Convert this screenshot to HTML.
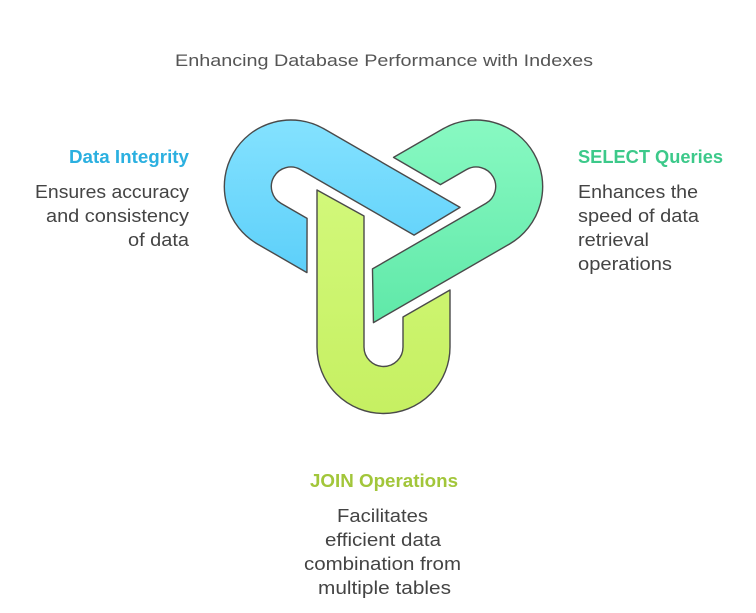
<!DOCTYPE html>
<html><head><style>
html,body{margin:0;padding:0;background:#fff;}
svg{display:block;}
text{font-family:"Liberation Sans",sans-serif;}
</style></head><body>
<svg width="756" height="613" viewBox="0 0 756 613" xmlns="http://www.w3.org/2000/svg">
<defs>
<linearGradient id="gy" x1="0" y1="0" x2="0" y2="1"><stop offset="0" stop-color="#d2f87a"/><stop offset="1" stop-color="#c6f062"/></linearGradient>
<linearGradient id="gb" gradientUnits="userSpaceOnUse" x1="0" y1="120" x2="0" y2="275" gradientTransform="rotate(-120 383.5 240)"><stop offset="0" stop-color="#84e2ff"/><stop offset="1" stop-color="#5ccff9"/></linearGradient>
<linearGradient id="gg" gradientUnits="userSpaceOnUse" x1="0" y1="120" x2="0" y2="325" gradientTransform="rotate(-240 383.5 240)"><stop offset="0" stop-color="#88f9c2"/><stop offset="1" stop-color="#5fe8a8"/></linearGradient>
</defs>
<g stroke="#4a4a4a" stroke-width="1.4" stroke-linejoin="round">
<path d="M317,190 L364,216 L364,347 A19.5,19.5 0 0 0 403,347 L403,317 L450,290 L450,347 A66.5,66.5 0 0 1 317,347 Z" fill="url(#gy)"/>
<path transform="rotate(120 383.5 240)" d="M317,190 L364,216 L364,347 A19.5,19.5 0 0 0 403,347 L403,317 L450,290 L450,347 A66.5,66.5 0 0 1 317,347 Z" fill="url(#gb)"/>
<path transform="rotate(240 383.5 240)" d="M317,190 L364,216 L364,347 A19.5,19.5 0 0 0 403,347 L403,317 L450,290 L450,347 A66.5,66.5 0 0 1 317,347 Z" fill="url(#gg)"/>
</g>
<text x="175" y="66" font-size="17" fill="#555" textLength="418" lengthAdjust="spacingAndGlyphs">Enhancing Database Performance with Indexes</text>
<g font-size="18" fill="#444" lengthAdjust="spacingAndGlyphs">
<text x="69" y="163" fill="#2bb0e0" font-weight="bold" textLength="120" lengthAdjust="spacingAndGlyphs">Data Integrity</text>
<text x="35" y="198" textLength="154" lengthAdjust="spacingAndGlyphs">Ensures accuracy</text>
<text x="46" y="222" textLength="143" lengthAdjust="spacingAndGlyphs">and consistency</text>
<text x="128" y="246" textLength="61" lengthAdjust="spacingAndGlyphs">of data</text>
<text x="578" y="163" fill="#3cc98a" font-weight="bold" textLength="145" lengthAdjust="spacingAndGlyphs">SELECT Queries</text>
<text x="578" y="198" textLength="120" lengthAdjust="spacingAndGlyphs">Enhances the</text>
<text x="578" y="222" textLength="121" lengthAdjust="spacingAndGlyphs">speed of data</text>
<text x="578" y="246" textLength="71" lengthAdjust="spacingAndGlyphs">retrieval</text>
<text x="578" y="270" textLength="94" lengthAdjust="spacingAndGlyphs">operations</text>
<text x="310" y="487" fill="#a2c63a" font-weight="bold" textLength="148" lengthAdjust="spacingAndGlyphs">JOIN Operations</text>
<text x="337" y="522" textLength="91" lengthAdjust="spacingAndGlyphs">Facilitates</text>
<text x="325" y="546" textLength="116" lengthAdjust="spacingAndGlyphs">efficient data</text>
<text x="304" y="570" textLength="157" lengthAdjust="spacingAndGlyphs">combination from</text>
<text x="318" y="594" textLength="133" lengthAdjust="spacingAndGlyphs">multiple tables</text>
</g>
</svg>
</body></html>
